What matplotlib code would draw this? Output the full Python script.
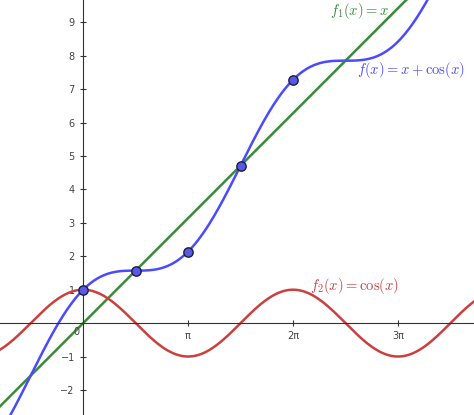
import numpy as np
import matplotlib.pyplot as plt

plt.rcParams['mathtext.fontset'] = 'cm'

# marked points on f(x) = x + cos(x)
pt_x = [0, np.pi / 2, np.pi, 3 * np.pi / 2, 2 * np.pi]
pt_y = [1.0, 1.571, 2.142, 4.712, 7.283]

y_ticks = [-2, -1, 1, 2, 3, 4, 5, 6, 7, 8, 9]
x_ticks = [np.pi, 2 * np.pi, 3 * np.pi]
x_labels = ['π', '2π', '3π']

xs = np.linspace(-2.6, 11.8, 800)

fig = plt.figure(figsize=(4.74, 4.15), dpi=100)
ax = fig.add_axes([0, 0, 1, 1])
ax.set_xlim(-2.49, 11.7)
ax.set_ylim(-2.75, 9.67)

blue = '#4a4aff'
green = '#3b8a3b'
red = '#cc3f3f'

ax.plot(xs, xs, color=green, lw=1.8)
ax.plot(xs, np.cos(xs), color=red, lw=1.8)
ax.plot(xs, xs + np.cos(xs), color=blue, lw=1.8)
ax.scatter(pt_x, pt_y, s=45, color='#5a5ae0', edgecolor='#1a1a4a', lw=1, zorder=5)

# axes through origin
for s in ['top', 'right']:
    ax.spines[s].set_visible(False)
ax.spines['left'].set_position(('data', 0))
ax.spines['bottom'].set_position(('data', 0))
ax.spines['left'].set_color('#333333')
ax.spines['bottom'].set_color('#333333')
ax.set_xticks(x_ticks)
ax.set_xticklabels(x_labels)
ax.set_yticks(y_ticks)
ax.tick_params(direction='inout', length=5, labelsize=7, colors='#333333', labelcolor='#444444')
ax.text(-0.12, -0.12, '0', ha='right', va='top', fontsize=7, color='#444444')

ax.text(7.4, 9.35, r'$f_1(x) = x$', color=green, fontsize=10.5, ha='left', va='center')
ax.text(8.2, 7.57, r'$f(x) = x + \cos(x)$', color=blue, fontsize=10.5, ha='left', va='center')
ax.text(6.8, 1.12, r'$f_2(x) = \cos(x)$', color=red, fontsize=10.5, ha='left', va='center')

plt.savefig('out.png', dpi=100)
